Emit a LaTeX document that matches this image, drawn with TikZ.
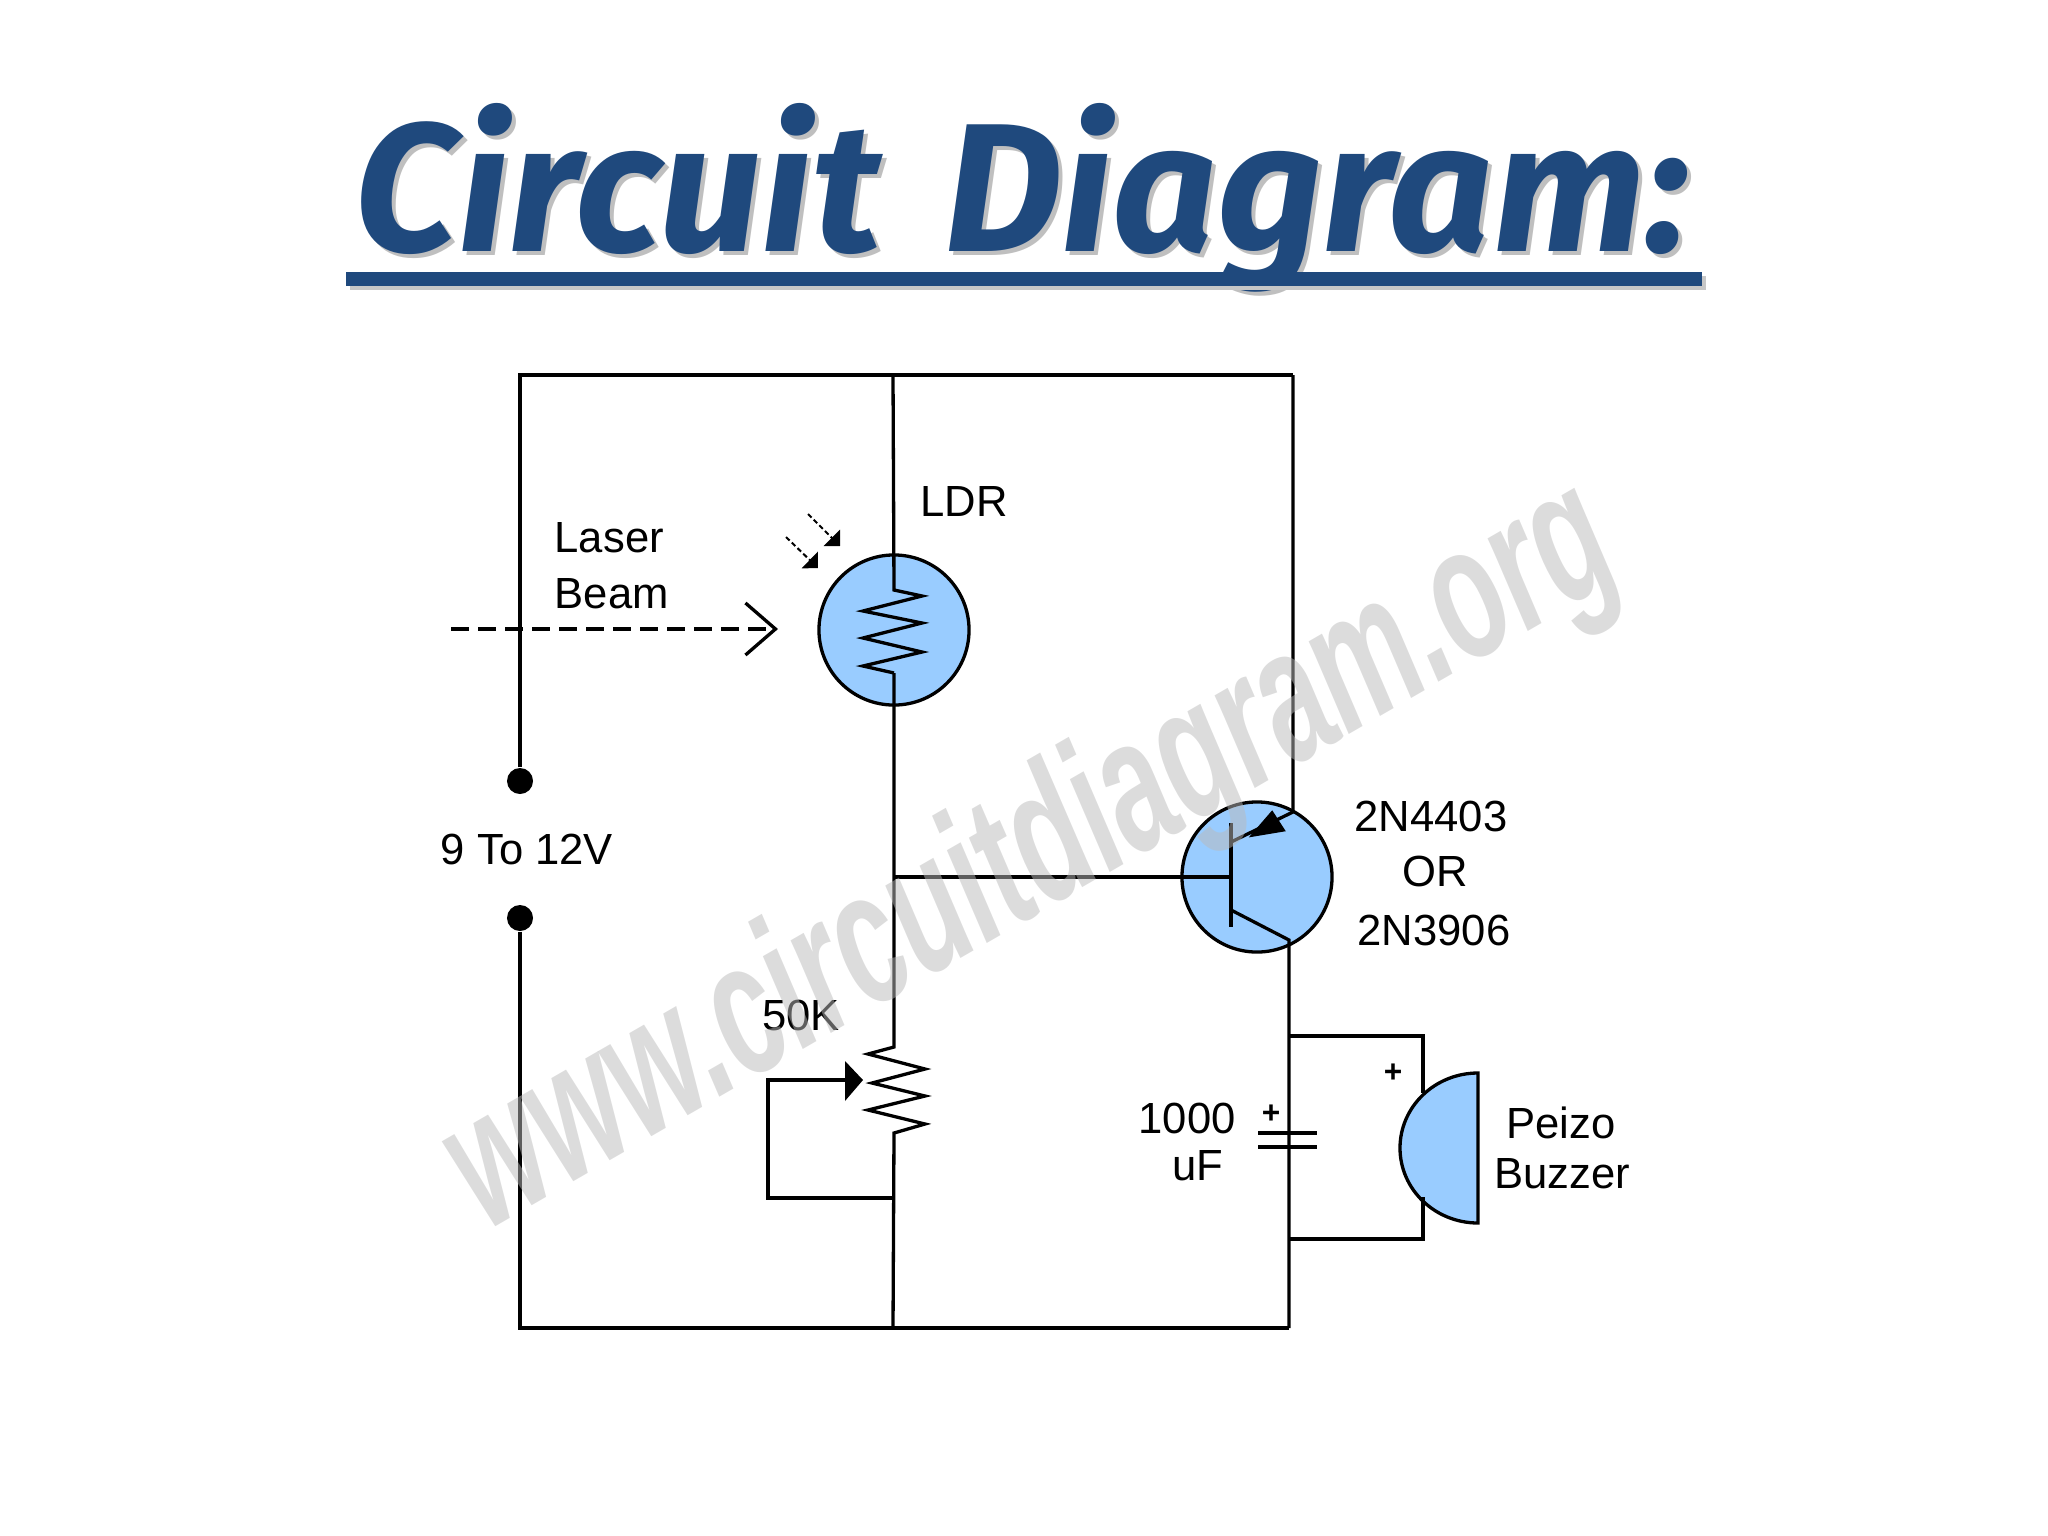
\documentclass[tikz,border=0pt]{standalone}
\usepackage{fontspec}
\setmainfont{Liberation Sans}
\newfontfamily\titlefont{Fira Sans}
\usetikzlibrary{arrows.meta}
\definecolor{partblue}{HTML}{99CCFF}
\definecolor{titleblue}{HTML}{1F497D}
\tikzset{
	wire/.style={line width=0.033cm},
	part/.style={draw,line width=0.033cm,fill=partblue,circle,inner sep=0pt,minimum size=1.5cm},
	dot/.style={fill,circle,inner sep=0pt,minimum size=0.26cm},
	label/.style={font=\fontsize{12.4}{14}\selectfont,inner sep=0pt},
	plus/.style={font=\fontsize{9}{10}\selectfont\bfseries,inner sep=0pt},
	headline/.style={font=\fontsize{52}{54}\titlefont\bfseries\itshape,inner sep=0pt,anchor=base west}
}
\begin{document}
\begin{tikzpicture}[x=0.01cm,y=-0.01cm]
		\useasboundingbox (0,0) rectangle (2048,1536);
		
		% heading
		\node[headline,text=black!25] at (358,255) {Circuit\hspace{0.12em} Diagram:};
		\node[headline,text=titleblue] (title) at (354,251) {Circuit\hspace{0.12em} Diagram:};
		\fill[black!22] (350,276) rectangle (1706,290);
		\fill[titleblue] (346,272) rectangle (1702,286);
		
		% rails
		\coordinate (tl) at (520,375);
		\coordinate (tm) at (893,375);
		\coordinate (tr) at (1293,375);
		\coordinate (bl) at (520,1328);
		\coordinate (bm) at (893,1328);
		\coordinate (br) at (1289,1328);
		\node[dot] (pos) at (520,781) {};
		\node[dot] (neg) at (520,918) {};
		\draw[wire] (pos) -- (tl) -- (tr);
		\draw[wire] (neg) -- (bl) -- (br);
		
		% ldr
		\node[part] (ldr) at (894,630) {};
		\coordinate (ldrin) at (894,590);
		\coordinate (ldrout) at (894,673);
		\draw[wire] (tm) -- (ldrin) \foreach \x/\y in {922/596,863/611,922/623,863/638,922/652,863/666}{ -- (\x,\y)} -- (ldrout);
		\foreach \a/\b/\c/\d in {808/514/840/546,786/537/818/568}{
			\draw[line width=0.02cm,dash pattern=on 0.05cm off 0.03cm,-{Triangle[length=0.115cm,width=0.23cm]}] (\a,\b) -- (\c,\d);
		}
		\coordinate (beamstart) at (451,629);
		\coordinate (beamend) at (778,629);
		\draw[wire,dash pattern=on 0.18cm off 0.09cm,-{Straight Barb[length=0.3cm,width=0.52cm]}] (beamstart) -- (beamend);
		
		% transistor
		\node[part] (q) at (1257,877) {};
		\coordinate (qb) at (1231,877);
		\coordinate (qe) at (1231,842);
		\coordinate (qc) at (1231,910);
		\coordinate (emit) at (1293,812);
		\coordinate (coll) at (1289,940);
		\coordinate (basej) at (893,877);
		\draw[wire] (tr) -- (emit) -- (qe);
		\filldraw[wire] (1272,813) -- (1283,830) -- (1253,835) -- cycle;
		\draw[wire] (1231,823) -- (1231,927);
		\draw[wire] (basej) -- (qb);
		\draw[wire] (qc) -- (coll) -- (br);
		
		% pot
		\coordinate (potin) at (894,1047);
		\coordinate (potout) at (894,1133);
		\draw[wire] (ldrout) -- (potin) \foreach \x/\y in {868/1054,925/1069,872/1083,925/1096,868/1110,925/1124}{ -- (\x,\y)} -- (potout) -- (bm);
		\coordinate (wiper) at (845,1080);
		\coordinate (loopj) at (894,1198);
		\fill (845,1061) -- (863,1080) -- (845,1101) -- cycle;
		\draw[wire] (wiper) -- (768,1080) -- (768,1198) -- (loopj);
		
		% capacitor
		\coordinate (capa) at (1290,1133);
		\coordinate (capb) at (1290,1147);
		\draw[wire] (1258,1133) -- (1317,1133);
		\draw[wire] (1258,1147) -- (1317,1147);
		\node[plus] (capplus) at (1271,1114) {+};
		
		% buzzer
		\draw[wire,fill=partblue] (1478,1073) arc(-90:-270:78 and 75) -- cycle;
		\coordinate (buzza) at (1423,1093);
		\coordinate (buzzb) at (1423,1197);
		\draw[wire] (1290,1036) -- (1423,1036) -- (buzza);
		\draw[wire] (1290,1239) -- (1423,1239) -- (buzzb);
		\node[plus] (buzzplus) at (1393,1073) {+};
		
		% labels
		\node[label] (ldrname) at (964,501) {LDR};
		\node[label,anchor=west] (laser) at (554,538) {Laser};
		\node[label,anchor=west] (beam) at (554,594) {Beam};
		\node[label] (volt) at (527,849) {9 To 12V};
		\node[label] (qa) at (1431,816) {2N4403};
		\node[label] (qor) at (1435,871) {OR};
		\node[label] (qz) at (1434,930) {2N3906};
		\node[label] (potname) at (801,1015) {50K};
		\node[label] (capval) at (1187,1118) {1000};
		\node[label] (capunit) at (1198,1166) {uF};
		\node[label] (peizo) at (1561,1123) {Peizo};
		\node[label] (buzzer) at (1562,1174) {Buzzer};
		
		% watermark
		\node[font=\fontsize{54}{56}\selectfont\bfseries\itshape,text=black!27,opacity=0.5,inner sep=0pt,anchor=base west,rotate=30,xscale=0.61] (mark) at (487,1232) {www.circuitdiagram.org};
		\end{tikzpicture}
\end{document}
